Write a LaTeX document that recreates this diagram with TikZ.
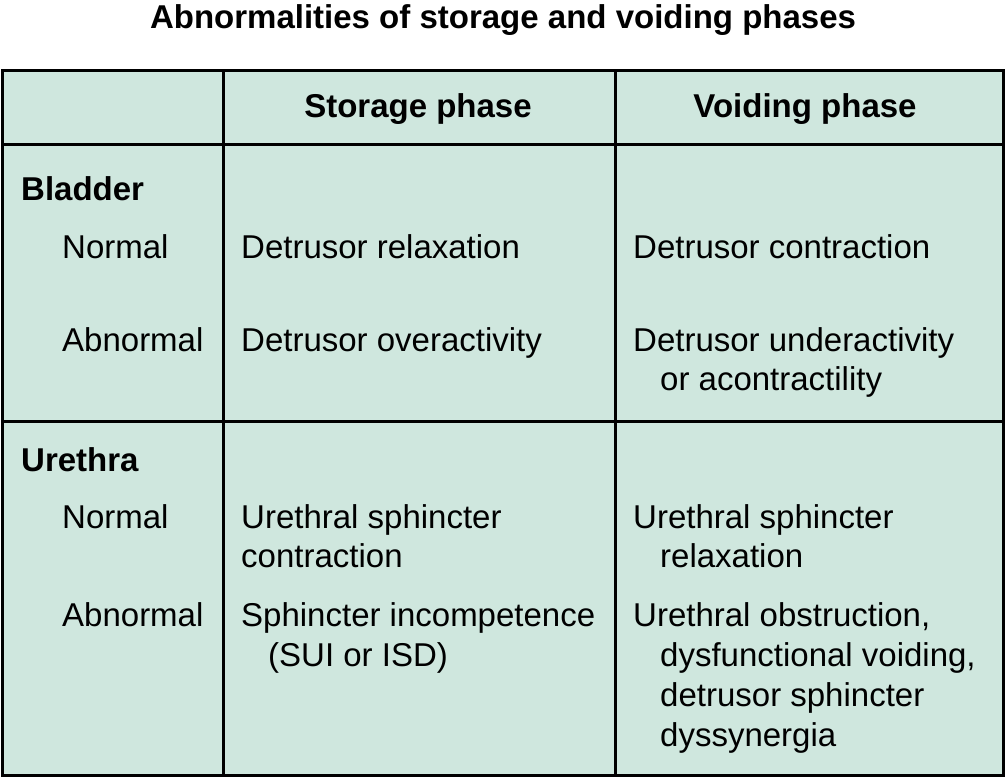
\documentclass[tikz,border=0pt]{standalone}
\usepackage{fontspec}
\setmainfont{Liberation Sans}
\begin{document}
\begin{tikzpicture}[x=1pt,y=-1pt,
  txt/.style={anchor=base west,inner sep=0pt,font=\fontsize{33}{39}\selectfont},
  hd/.style={anchor=base,inner sep=0pt,font=\fontsize{33}{39}\selectfont\bfseries},
  rule/.style={line width=3pt,black}]
\useasboundingbox (0,0) rectangle (1005,778);
\definecolor{cellbg}{RGB}{207,231,222}
\fill[cellbg] (2,71) rectangle (1003,775);
\draw[rule] (2,71) rectangle (1003,775);
\draw[rule] (223,71) -- (223,775);
\draw[rule] (615,71) -- (615,775);
\draw[rule] (2,145) -- (1003,145);
\draw[rule] (2,421) -- (1003,421);
\node[hd] (title) at (503,29) {Abnormalities of storage and voiding phases};
\node[hd] (sp) at (418,118) {Storage phase};
\node[hd] (vp) at (805,118) {Voiding phase};
\node[txt,font=\fontsize{33}{39}\selectfont\bfseries] (bl) at (21,201) {Bladder};
\node[txt] (bn) at (62,259) {Normal};
\node[txt] (ba) at (62,352) {Abnormal};
\node[txt] (s1) at (241,259) {Detrusor relaxation};
\node[txt] (v1) at (633,259) {Detrusor contraction};
\node[txt] (s2) at (241,352) {Detrusor overactivity};
\node[txt] (v2) at (633,352) {Detrusor underactivity};
\node[txt] (v2b) at (660,391) {or acontractility};
\node[txt,font=\fontsize{33}{39}\selectfont\bfseries] (ur) at (21,471) {Urethra};
\node[txt] (un) at (62,528) {Normal};
\node[txt] (ua) at (62,626) {Abnormal};
\node[txt] (s3) at (241,528) {Urethral sphincter};
\node[txt] (s3b) at (241,567) {contraction};
\node[txt] (v3) at (633,528) {Urethral sphincter};
\node[txt] (v3b) at (660,567) {relaxation};
\node[txt] (s4) at (241,626) {Sphincter incompetence};
\node[txt] (s4b) at (268,666) {(SUI or ISD)};
\node[txt] (v4) at (633,626) {Urethral obstruction,};
\node[txt] (v4b) at (660,666) {dysfunctional voiding,};
\node[txt] (v4c) at (660,706) {detrusor sphincter};
\node[txt] (v4d) at (660,746) {dyssynergia};
\end{tikzpicture}
\end{document}
